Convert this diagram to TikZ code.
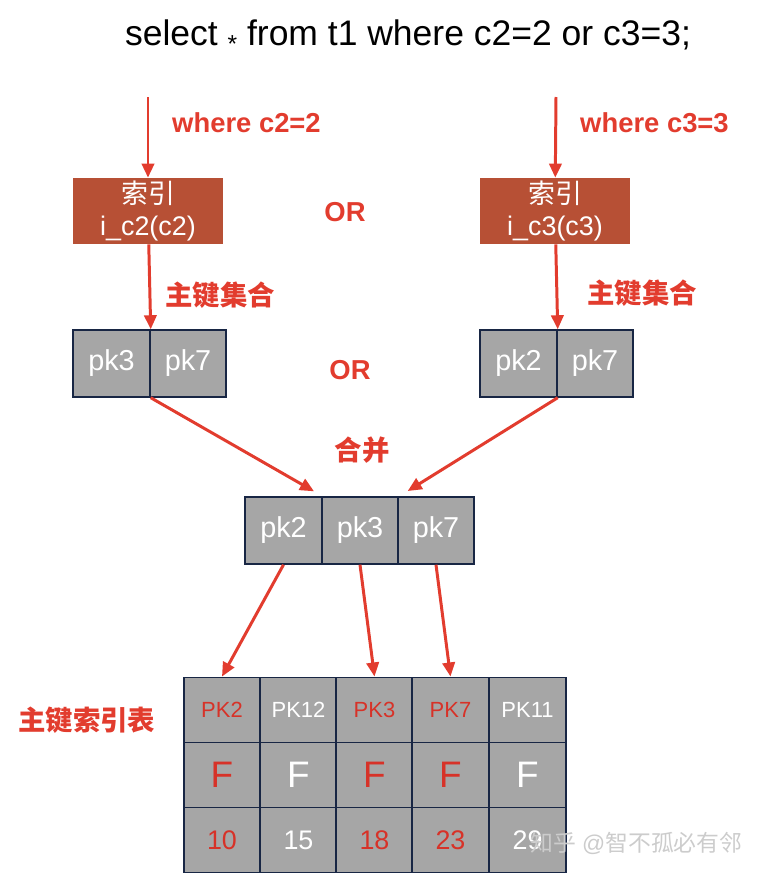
\documentclass[tikz,border=0pt]{standalone}
\usepackage{fontspec}
\setmainfont{Liberation Sans}
\newfontfamily\cjk{Noto Sans CJK SC}
\usetikzlibrary{arrows.meta}
\definecolor{arrred}{RGB}{226,60,46}
\definecolor{idxred}{RGB}{183,80,53}
\definecolor{cellgray}{RGB}{166,166,166}
\definecolor{navy}{RGB}{24,38,68}
\definecolor{hitred}{RGB}{215,50,40}
\tikzset{
	flow/.style={draw=arrred,line width=1.7pt,-{Triangle[length=8pt,width=7pt]}},
	redlbl/.style={text=arrred,font=\fontsize{15.6}{18}\selectfont\bfseries},
	idxbox/.style={fill=idxred,text=white,minimum width=3cm,minimum height=1.32cm,inner sep=0pt,align=center,font=\fontsize{15.3}{18.7}\selectfont},
	pkcell/.style={fill=cellgray,draw=navy,line width=1.1pt,minimum width=1.53cm,minimum height=1.33cm,inner sep=0pt,text=white,font=\fontsize{16.4}{18}\selectfont},
	tcell/.style={fill=cellgray,draw=navy,line width=1.1pt,minimum width=1.53cm,minimum height=1.3cm,inner sep=0pt,text=white},
	hit/.style={text=hitred},
	pkrow/.style={font=\fontsize{12.5}{14}\selectfont},
	frow/.style={font=\fontsize{21}{22}\selectfont},
	numrow/.style={font=\fontsize{15.3}{17}\selectfont}
}
\begin{document}
\begin{tikzpicture}[x=0.02cm,y=-0.02cm]
			\useasboundingbox (0,0) rectangle (758,876);
			\node at (408,36) (sql) {\fontsize{20.2}{22}\selectfont select {\fontsize{14}{14}\selectfont\raisebox{-0.3em}{*}} from t1 where c2=2 or c3=3;};
			% two index lookups
			\coordinate (in2) at (148,97);
			\coordinate (in3) at (556,97);
			\node[redlbl,anchor=west] at (166,123) (w2) {where c2=2};
			\node[redlbl,anchor=west] at (574,123) (w3) {where c3=3};
			\node[idxbox] at (148,211) (idx2) {{\cjk 索引}\\i\_c2(c2)};
			\node[idxbox] at (555,211) (idx3) {{\cjk 索引}\\i\_c3(c3)};
			\node[redlbl] at (345,212) (or1) {OR};
			\draw[flow] (in2)--(idx2);
			\draw[flow] (in3)--(idx3);
			\node[redlbl,anchor=west] at (159,295) (set2) {\cjk 主键集合};
			\node[redlbl,anchor=west] at (581,293) (set3) {\cjk 主键集合};
			\node[pkcell] at (111.5,363.5) (pk3a) {\raisebox{-0.2em}{pk3}};
			\node[pkcell] at (188,363.5) (pk7a) {\raisebox{-0.2em}{pk7}};
			\node[pkcell] at (518.5,363.5) (pk2b) {\raisebox{-0.2em}{pk2}};
			\node[pkcell] at (595,363.5) (pk7b) {\raisebox{-0.2em}{pk7}};
			\draw[flow] (idx2)--(pk3a.north east);
			\draw[flow] (idx3)--(pk2b.north east);
			\node[redlbl] at (350,370) (or2) {OR};
			% merge
			\node[redlbl] at (362,450) (merge) {\cjk 合并};
			\node[pkcell] at (283.5,530.5) (m2) {\raisebox{-0.2em}{pk2}};
			\node[pkcell] at (360,530.5) (m3) {\raisebox{-0.2em}{pk3}};
			\node[pkcell] at (436,530.5) (m7) {\raisebox{-0.2em}{pk7}};
			\draw[flow,shorten >=0.2cm] (pk3a.south east)--(m2.north east);
			\draw[flow,shorten >=0.2cm] (pk2b.south east)--(m3.north east);
			% primary key table
			\node[redlbl,anchor=west] at (12,720) (pktab) {\cjk 主键索引表};
			\node[tcell,pkrow,hit] at (222,710) (tpk2) {PK2};
			\node[tcell,pkrow] at (298.5,710) (tpk12) {PK12};
			\node[tcell,pkrow,hit] at (374.5,710) (tpk3) {PK3};
			\node[tcell,pkrow,hit] at (450.5,710) (tpk7) {PK7};
			\node[tcell,pkrow] at (527.5,710) (tpk11) {PK11};
			\node[tcell,frow,hit] at (222,775) (f1) {F};
			\node[tcell,frow] at (298.5,775) (f2) {F};
			\node[tcell,frow,hit] at (374.5,775) (f3) {F};
			\node[tcell,frow,hit] at (450.5,775) (f4) {F};
			\node[tcell,frow] at (527.5,775) (f5) {F};
			\node[tcell,numrow,hit] at (222,840) (n10) {10};
			\node[tcell,numrow] at (298.5,840) (n15) {15};
			\node[tcell,numrow,hit] at (374.5,840) (n18) {18};
			\node[tcell,numrow,hit] at (450.5,840) (n23) {23};
			\node[tcell,numrow] at (527.5,840) (n29) {29};
			\draw[flow] (m2.south)--(tpk2.north);
			\draw[flow] (m3.south)--(tpk3.north);
			\draw[flow] (m7.south)--(tpk7.north);
			\node[anchor=west,text=black!20,font=\fontsize{13}{15}\selectfont] at (524,843) (wm) {{\cjk 知乎} @{\cjk 智不孤必有邻}};
		\end{tikzpicture}
\end{document}
